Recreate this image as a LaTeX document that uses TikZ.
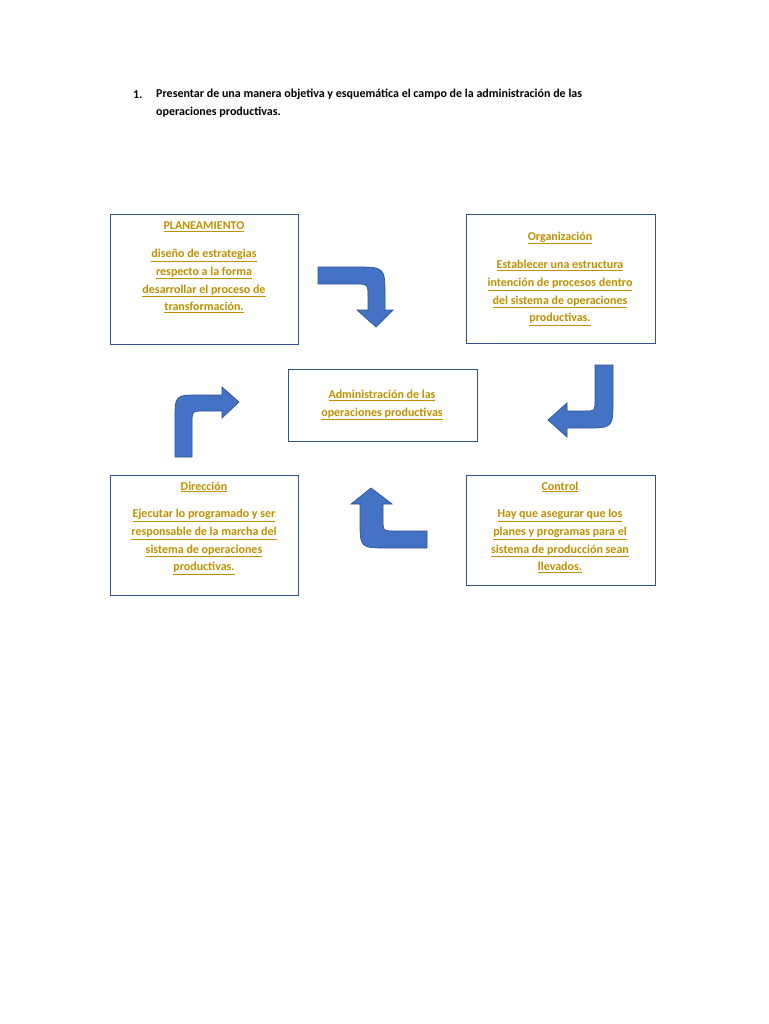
\documentclass[tikz,border=0pt]{standalone}
\usepackage{fontspec}
\setmainfont{Carlito}
\newcommand\ulx[1]{\underline{#1}}
\definecolor{gold}{HTML}{BF9000}
\definecolor{boxblue}{HTML}{2F528F}
\definecolor{arrfill}{HTML}{4472C4}
\begin{document}
\begin{tikzpicture}[x=1pt,y=-1pt,
  box/.style={draw=boxblue,line width=0.9pt,fill=white},
  gtext/.style={text=gold,font=\fontsize{12}{17.7}\selectfont\bfseries,align=center,inner sep=0pt},
  barrow/.style={fill=arrfill,draw=boxblue,line width=0.7pt,line join=miter}]
\useasboundingbox (0,0) rectangle (768,1024);
\fill[white] (0,0) rectangle (768,1024);
% heading
\node[font=\fontsize{12}{17.7}\selectfont\bfseries,anchor=base west,inner sep=0pt] (num) at (133,99) {1.};
\node[font=\fontsize{12}{17.7}\selectfont\bfseries,anchor=north west,inner sep=0pt,align=left] (head) at (156,89) {Presentar de una manera objetiva y esquemática el campo de la administración de las\\operaciones productivas.};
% boxes
\draw[box] (110,214) rectangle (298,344);
\draw[box] (466,214) rectangle (655,343);
\draw[box] (288,369) rectangle (477,441);
\draw[box] (110,475) rectangle (298,595);
\draw[box] (466,475) rectangle (655,585);
% texts
\node[gtext] (t1) at (204,227) {\ulx{PLANEAMIENTO}};
\node[gtext] (b1) at (204,281) {\ulx{diseño de estrategias}\\\ulx{respecto a la forma}\\\ulx{desarrollar el proceso de}\\\ulx{transformación.}};
\node[gtext] (t2) at (560,238) {\ulx{Organización}};
\node[gtext] (b2) at (560,293) {\ulx{Establecer una estructura}\\\ulx{intención de procesos dentro}\\\ulx{del sistema de operaciones}\\\ulx{productivas.}};
\node[gtext] (c) at (382,405) {\ulx{Administración de las}\\\ulx{operaciones productivas}};
\node[gtext] (t3) at (204,487) {\ulx{Dirección}};
\node[gtext] (b3) at (204,542) {\ulx{Ejecutar lo programado y ser}\\\ulx{responsable de la marcha del}\\\ulx{sistema de operaciones}\\\ulx{productivas.}};
\node[gtext] (t4) at (560,487) {\ulx{Control}};
\node[gtext] (b4) at (560,541) {\ulx{Hay que asegurar que los}\\\ulx{planes y programas para el}\\\ulx{sistema de producción sean}\\\ulx{llevados.}};
% bent arrows
\draw[barrow] (318,267) -- (355,267) .. controls (385,267) .. (385,297) -- (385,310) -- (393,310) -- (376,327) -- (357,310) -- (368,310) -- (368,297) .. controls (368,284) .. (355,284) -- (318,284) -- cycle;
\draw[barrow] (595,365) -- (613,365) -- (613,400) .. controls (613,428) .. (585,428) -- (567,428) -- (567,437) -- (548,420) -- (567,403) -- (567,411) -- (585,411) .. controls (595,411) .. (595,400) -- cycle;
\draw[barrow] (427,531) -- (395,531) .. controls (383,531) .. (383,519) -- (383,504) -- (392,504) -- (371,488) -- (351,504) -- (360,504) -- (360,520) .. controls (360,548) .. (388,548) -- (427,548) -- cycle;
\draw[barrow] (175,457) -- (175,420) .. controls (175,395) .. (200,395) -- (222,395) -- (222,387) -- (239,402) -- (222,418) -- (222,411) -- (205,411) .. controls (192,411) .. (192,424) -- (192,457) -- cycle;
\end{tikzpicture}
\end{document}
